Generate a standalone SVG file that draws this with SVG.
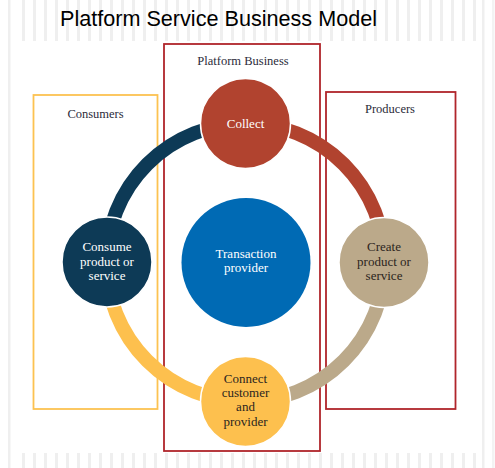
<svg xmlns="http://www.w3.org/2000/svg" width="495" height="468" viewBox="0 0 495 468">
<defs>
<pattern id="stripes" x="0" y="0" width="11" height="10" patternUnits="userSpaceOnUse">
<rect x="0" y="0" width="3" height="10" fill="#efefef"/>
</pattern>
</defs>
<style>
.box{fill:none;stroke-width:1.8}
.red{stroke:#b0252b}
.org{stroke:#fcc251}
.arc{fill:none;stroke-width:14}
.node{stroke:#ffffff;stroke-width:1.5}
.lbl{font-family:"Liberation Serif","Times New Roman",serif;font-size:12.5px;fill:#2b2b3a;text-anchor:middle}
.t{font-family:"Liberation Serif","Times New Roman",serif;font-size:13px;text-anchor:middle}
.w{fill:#ffffff}
.d{fill:#2b2520}
</style>
<rect width="495" height="468" fill="#ffffff"/>
<rect x="18" y="0" width="458" height="41" fill="url(#stripes)"/>
<rect x="18" y="453" width="458" height="15" fill="url(#stripes)"/>
<rect x="8" y="0" width="2.5" height="468" fill="#efefef"/>
<rect x="482" y="0" width="2.5" height="468" fill="#efefef"/>
<rect x="492" y="0" width="2.5" height="468" fill="#f3f3f3"/>
<text x="60" y="25.5" font-family="'Liberation Sans',Arial,sans-serif" font-size="22" fill="#000000" textLength="317" lengthAdjust="spacingAndGlyphs">Platform Service Business Model</text>

<g id="consumers">
<rect class="box org" x="33.5" y="95" width="124" height="314"/>
<text class="lbl" x="95.5" y="118">Consumers</text>
</g>
<g id="platform-business">
<rect class="box red" x="164" y="44" width="156" height="407"/>
<text class="lbl" x="243" y="65">Platform Business</text>
</g>
<g id="producers">
<rect class="box red" x="326" y="92" width="129.5" height="317"/>
<text class="lbl" x="390" y="113">Producers</text>
</g>

<g id="connectors">
<path class="arc" stroke="#0d3a56" d="M106.5,262.5 A139,139 0 0 1 245.5,123.5"/>
<path class="arc" stroke="#b1432f" d="M245.5,123.5 A139,139 0 0 1 384.5,262.5"/>
<path class="arc" stroke="#bba98a" d="M384.5,262.5 A139,139 0 0 1 245.5,401.5"/>
<path class="arc" stroke="#fdc04e" d="M245.5,401.5 A139,139 0 0 1 106.5,262.5"/>
</g>

<g id="collect">
<circle class="node" cx="245.5" cy="123.5" r="45" fill="#b1432f"/>
<text class="t w" x="245.5" y="127.5">Collect</text>
</g>
<g id="transaction-provider">
<circle cx="246" cy="262.5" r="64.5" fill="#006ab4"/>
<text class="t w" x="246" y="257.5">Transaction</text>
<text class="t w" x="246" y="272">provider</text>
</g>
<g id="consume">
<circle class="node" cx="107" cy="262" r="45" fill="#0d3a56"/>
<text class="t w" x="107" y="251">Consume</text>
<text class="t w" x="107" y="265.5">product or</text>
<text class="t w" x="107" y="279.5">service</text>
</g>
<g id="create">
<circle class="node" cx="384" cy="262.5" r="45" fill="#bba98a"/>
<text class="t d" x="384" y="251">Create</text>
<text class="t d" x="384" y="265.5">product or</text>
<text class="t d" x="384" y="279.5">service</text>
</g>
<g id="connect">
<circle class="node" cx="245.5" cy="401.5" r="45" fill="#fdc04e"/>
<text class="t d" x="245.5" y="382.5">Connect</text>
<text class="t d" x="245.5" y="397">customer</text>
<text class="t d" x="245.5" y="411">and</text>
<text class="t d" x="245.5" y="425.5">provider</text>
</g>
</svg>
